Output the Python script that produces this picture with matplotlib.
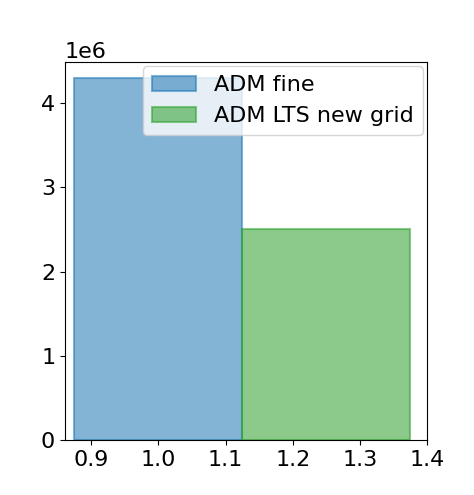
import matplotlib
matplotlib.use("Agg")
import matplotlib.pyplot as plt

labels = ["ADM fine", "ADM LTS new grid"]
positions = [1.0, 1.25]
values = [4.3e6, 2.5e6]
colors = ["tab:blue", "tab:green"]
yticks = [0, 1e6, 2e6, 3e6, 4e6]

plt.rcParams['font.size'] = 16
fig = plt.figure(figsize=(4.74, 4.95), dpi=100)
ax = fig.add_axes([0.137, 0.111, 0.764, 0.764])
for p, v, c, l in zip(positions, values, colors, labels):
    ax.bar(p, v, width=0.25, color=c, alpha=0.55, edgecolor=c, linewidth=1.5, label=l)
ax.set_xlim(0.861, 1.4)
ax.set_ylim(0, 4.49e6)
ax.set_xticks([0.9, 1.0, 1.1, 1.2, 1.3, 1.4])
ax.set_yticks(yticks)
ax.legend(loc="upper right", borderaxespad=0.2)
fig.savefig("out.png", dpi=100)
